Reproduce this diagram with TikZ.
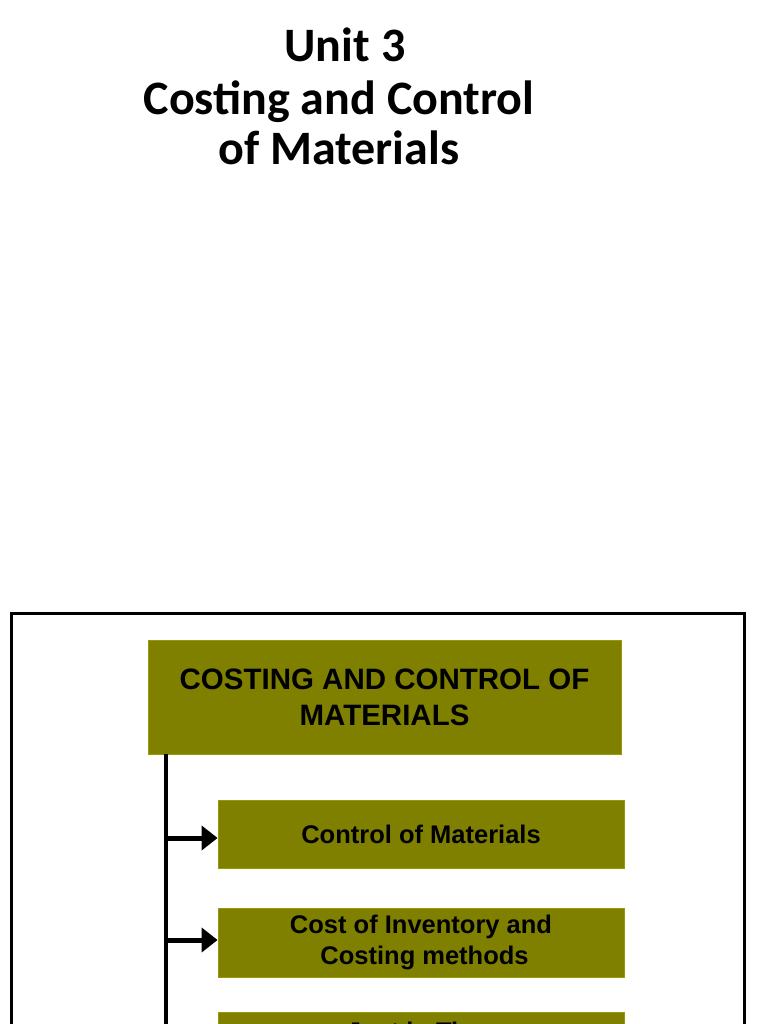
\documentclass[tikz,border=0pt]{standalone}
\usepackage{fontspec}
\setmainfont{Carlito}
\newfontfamily\arialf{Liberation Sans}
\usetikzlibrary{arrows.meta}
\definecolor{olivebox}{HTML}{808000}
\tikzset{
  obox/.style={fill=olivebox, draw=olivebox!80!yellow, line width=0.8pt, font=\arialf\bfseries, align=center, inner sep=0pt},
  conn/.style={line width=5pt, -{Triangle[length=16pt,width=24pt]}},
  ttl/.style={font=\fontsize{48}{54}\selectfont\bfseries, align=center}
}
\begin{document}
\begin{tikzpicture}[x=1pt,y=-1pt]
\useasboundingbox (0,0) rectangle (768,1024);
\clip (0,0) rectangle (768,1024);
\node[ttl] (t1) at (345,45) {Unit 3};
\node[ttl] (t2) at (339,102) {Costing and Control};
\node[ttl] (t3) at (339,148) {of Materials};
\draw[line width=3pt] (11,1040) -- (11,613) -- (744,613) -- (744,1040);
\node[obox, minimum width=473pt, minimum height=114pt, font=\arialf\bfseries\fontsize{29.5}{36}\selectfont] (top) at (384.5,697) {COSTING AND CONTROL OF\\MATERIALS};
\node[obox, minimum width=406pt, minimum height=68pt, font=\arialf\bfseries\fontsize{25.5}{31}\selectfont] (b1) at (421,834) {Control of Materials};
\node[obox, minimum width=406pt, minimum height=69pt, font=\arialf\bfseries\fontsize{25.5}{31}\selectfont] (b2) at (421,942.5) {Cost of Inventory and\\\ Costing methods};
\node[obox, minimum width=406pt, minimum height=69pt, font=\arialf\bfseries\fontsize{25.5}{31}\selectfont] (b3) at (421,1046.5) {};
\node[font=\arialf\bfseries\fontsize{25.5}{31}\selectfont, anchor=base] (b3t) at (421,1040) {Just in Time};
\coordinate (v0) at (166,754);
\coordinate (v1) at (166,1030);
\draw[line width=4.5pt] (v0) -- (v1);
\draw[conn] (166,838) -- (b1.west |- 0,838);
\draw[conn] (166,940) -- (b2.west |- 0,940);
\end{tikzpicture}
\end{document}
